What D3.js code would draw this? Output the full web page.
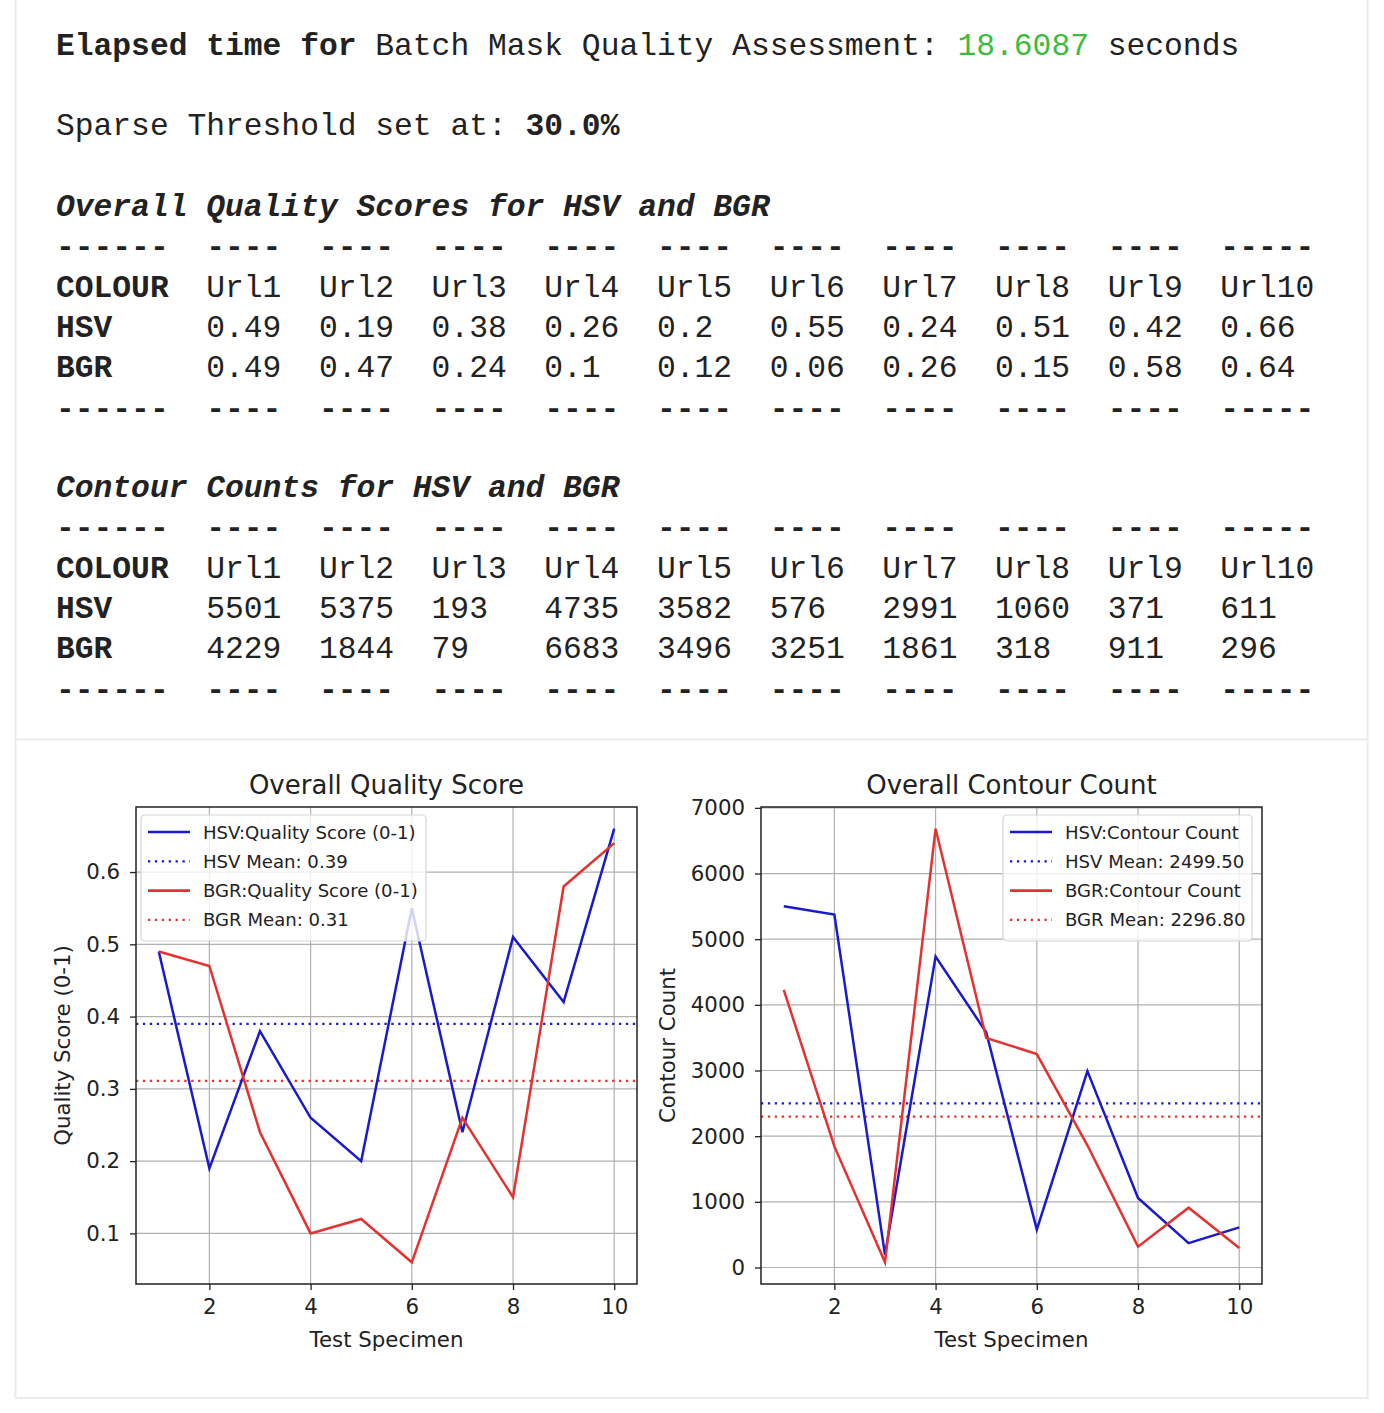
<!DOCTYPE html>
<html>
<head>
<meta charset="utf-8">
<script src="https://cdn.jsdelivr.net/npm/d3@7"></script>
<style>
  body { margin: 0; background: #fff; }
  svg { display: block; }
</style>
</head>
<body>
<div id="chart"></div>
<script>
var urls = ["Url1", "Url2", "Url3", "Url4", "Url5", "Url6", "Url7", "Url8", "Url9", "Url10"];
var specimens = [1, 2, 3, 4, 5, 6, 7, 8, 9, 10];
var hsvScores = [0.49, 0.19, 0.38, 0.26, 0.2, 0.55, 0.24, 0.51, 0.42, 0.66];
var bgrScores = [0.49, 0.47, 0.24, 0.1, 0.12, 0.06, 0.26, 0.15, 0.58, 0.64];
var hsvContours = [5501, 5375, 193, 4735, 3582, 576, 2991, 1060, 371, 611];
var bgrContours = [4229, 1844, 79, 6683, 3496, 3251, 1861, 318, 911, 296];
var elapsed = "18.6087";
var sparseThreshold = "30.0%";
var xTicks = [2, 4, 6, 8, 10];
var scoreTicks = [0.1, 0.2, 0.3, 0.4, 0.5, 0.6];
var countTicks = [0, 1000, 2000, 3000, 4000, 5000, 6000, 7000];

var W = 1384, H = 1413;
var blue = "#1a1acd", red = "#e3322f";
var mono = "'Liberation Mono', 'Courier New', monospace";
var sans = "'DejaVu Sans', sans-serif";
var fs = 31.3, cw = fs * 0.6;   // monospace char width
var x0 = 56;
var labelSize = "21.3px";

var svg = d3.select("#chart").append("svg")
    .attr("width", W)
    .attr("height", H);

// card outline + separator
svg.append("rect")
    .attr("x", 15.5).attr("y", -1)
    .attr("width", 1352).attr("height", 1399)
    .attr("fill", "none")
    .attr("stroke", "#ececec")
    .attr("stroke-width", 2);
svg.append("line")
    .attr("x1", 15).attr("x2", 1368)
    .attr("y1", 739.5).attr("y2", 739.5)
    .attr("stroke", "#ececec")
    .attr("stroke-width", 2);

var txt = svg.append("g")
    .style("font-family", mono)
    .style("font-size", fs + "px")
    .attr("fill", "#222");

// header lines
var l1 = txt.append("text").attr("x", x0).attr("y", 55);
l1.append("tspan").style("font-weight", "bold").text("Elapsed time for ");
l1.append("tspan").text("Batch Mask Quality Assessment: ");
l1.append("tspan").attr("fill", "#3dbb3d").text(elapsed);
l1.append("tspan").text(" seconds");

var l2 = txt.append("text").attr("x", x0).attr("y", 135);
l2.append("tspan").text("Sparse Threshold set at: ");
l2.append("tspan").style("font-weight", "bold").text(sparseThreshold);

function colX(i) {
    // first column is 8 chars wide, the rest 6
    return i == 0 ? x0 : x0 + (8 + 6 * (i - 1)) * cw;
}

function table(top, title, hsv, bgr) {
    txt.append("text")
        .attr("x", x0).attr("y", top)
        .style("font-weight", "bold")
        .style("font-style", "italic")
        .text(title);

    var rows = [
        {label: "COLOUR", vals: urls},
        {label: "HSV", vals: hsv},
        {label: "BGR", vals: bgr}
    ];
    var dashes = ["------"].concat(urls.map(function(u, i) { return i == 9 ? "-----" : "----"; }));

    [top + 40.3, top + 40.3 * 5].forEach(function(y) {
        dashes.forEach(function(d, i) {
            txt.append("text")
                .attr("x", colX(i)).attr("y", y)
                .style("font-weight", "bold")
                .text(d);
        });
    });

    rows.forEach(function(r, ri) {
        var y = top + 40.3 * (ri + 2);
        txt.append("text")
            .attr("x", colX(0)).attr("y", y)
            .style("font-weight", "bold")
            .text(r.label);
        r.vals.forEach(function(v, i) {
            txt.append("text")
                .attr("x", colX(i + 1)).attr("y", y)
                .text(String(v));
        });
    });
}

table(216, "Overall Quality Scores for HSV and BGR", hsvScores, bgrScores);
table(497, "Contour Counts for HSV and BGR", hsvContours, bgrContours);

// ---------- charts ----------
function lineChart(opt) {
    var left = opt.left, right = opt.left + 501, top = 807, bottom = 1284;
    var g = svg.append("g").style("font-family", sans).attr("fill", "#222");

    var allVals = opt.hsv.concat(opt.bgr);
    var lo = d3.min(allVals), hi = d3.max(allVals), pad = (hi - lo) * 0.05;

    var x = d3.scaleLinear().domain([0.55, 10.45]).range([left, right]);
    var y = d3.scaleLinear().domain([lo - pad, hi + pad]).range([bottom, top]);

    // grid
    g.append("g").selectAll("line").data(xTicks).enter().append("line")
        .attr("x1", function(d) { return x(d); }).attr("x2", function(d) { return x(d); })
        .attr("y1", top).attr("y2", bottom)
        .attr("stroke", "#b0b0b0").attr("stroke-width", 1.2);
    g.append("g").selectAll("line").data(opt.yTicks).enter().append("line")
        .attr("y1", function(d) { return y(d); }).attr("y2", function(d) { return y(d); })
        .attr("x1", left).attr("x2", right)
        .attr("stroke", "#b0b0b0").attr("stroke-width", 1.2);

    var hsvMean = d3.mean(opt.hsv), bgrMean = d3.mean(opt.bgr);

    // mean lines
    [[hsvMean, blue], [bgrMean, red]].forEach(function(m) {
        g.append("line")
            .attr("x1", left).attr("x2", right)
            .attr("y1", y(m[0])).attr("y2", y(m[0]))
            .attr("stroke", m[1]).attr("stroke-width", 2.3)
            .attr("stroke-dasharray", "2.3,4.6");
    });

    var line = d3.line()
        .x(function(d, i) { return x(specimens[i]); })
        .y(function(d) { return y(d); });

    g.append("path").datum(opt.hsv)
        .attr("d", line).attr("fill", "none")
        .attr("stroke", blue).attr("stroke-width", 2.5);
    g.append("path").datum(opt.bgr)
        .attr("d", line).attr("fill", "none")
        .attr("stroke", red).attr("stroke-width", 2.5);

    // axes
    var xAxis = d3.axisBottom(x).tickValues(xTicks).tickSize(6).tickPadding(9);
    var yAxis = d3.axisLeft(y).tickValues(opt.yTicks).tickSize(6).tickPadding(10)
        .tickFormat(opt.fmt);

    var gx = g.append("g").attr("transform", "translate(0," + bottom + ")").call(xAxis);
    var gy = g.append("g").attr("transform", "translate(" + left + ",0)").call(yAxis);
    [gx, gy].forEach(function(a) {
        a.select(".domain").remove();
        a.selectAll("line").attr("stroke", "#222").attr("stroke-width", 1.3);
        a.selectAll("text").attr("fill", "#222")
            .style("font-family", sans).style("font-size", labelSize);
    });

    // frame
    g.append("rect")
        .attr("x", left).attr("y", top)
        .attr("width", right - left).attr("height", bottom - top)
        .attr("fill", "none").attr("stroke", "#222").attr("stroke-width", 1.5);

    // titles
    g.append("text")
        .attr("x", (left + right) / 2).attr("y", 794)
        .attr("text-anchor", "middle")
        .style("font-size", "26px")
        .text(opt.title);
    g.append("text")
        .attr("x", (left + right) / 2).attr("y", 1347)
        .attr("text-anchor", "middle")
        .style("font-size", labelSize)
        .text("Test Specimen");
    g.append("text")
        .attr("transform", "translate(" + opt.ylabelX + "," + ((top + bottom) / 2) + ") rotate(-90)")
        .attr("text-anchor", "middle")
        .style("font-size", labelSize)
        .text(opt.ylabel);

    // legend
    var lg = g.append("g").attr("transform", "translate(" + opt.legX + ",815)");
    lg.append("rect")
        .attr("width", opt.legW).attr("height", 126)
        .attr("rx", 4)
        .attr("fill", "#fff").attr("fill-opacity", 0.8)
        .attr("stroke", "#d5d5d5").attr("stroke-width", 1.2);
    var items = [
        {label: opt.names[0], color: blue, dash: null},
        {label: "HSV Mean: " + hsvMean.toFixed(2), color: blue, dash: "2.3,4.6"},
        {label: opt.names[1], color: red, dash: null},
        {label: "BGR Mean: " + bgrMean.toFixed(2), color: red, dash: "2.3,4.6"}
    ];
    items.forEach(function(it, i) {
        var yy = 17 + i * 29.3;
        lg.append("line")
            .attr("x1", 7).attr("x2", 49)
            .attr("y1", yy).attr("y2", yy)
            .attr("stroke", it.color).attr("stroke-width", it.dash ? 2.3 : 2.6)
            .attr("stroke-dasharray", it.dash);
        lg.append("text")
            .attr("x", 62).attr("y", yy + 6.5)
            .style("font-size", "18.1px")
            .text(it.label);
    });
}

lineChart({
    left: 136,
    title: "Overall Quality Score",
    ylabel: "Quality Score (0-1)",
    ylabelX: 70,
    hsv: hsvScores,
    bgr: bgrScores,
    yTicks: scoreTicks,
    fmt: d3.format(".1f"),
    names: ["HSV:Quality Score (0-1)", "BGR:Quality Score (0-1)"],
    legX: 141,
    legW: 285
});

lineChart({
    left: 761,
    title: "Overall Contour Count",
    ylabel: "Contour Count",
    ylabelX: 675,
    hsv: hsvContours,
    bgr: bgrContours,
    yTicks: countTicks,
    fmt: d3.format("d"),
    names: ["HSV:Contour Count", "BGR:Contour Count"],
    legX: 1003,
    legW: 249
});
</script>
</body>
</html>
